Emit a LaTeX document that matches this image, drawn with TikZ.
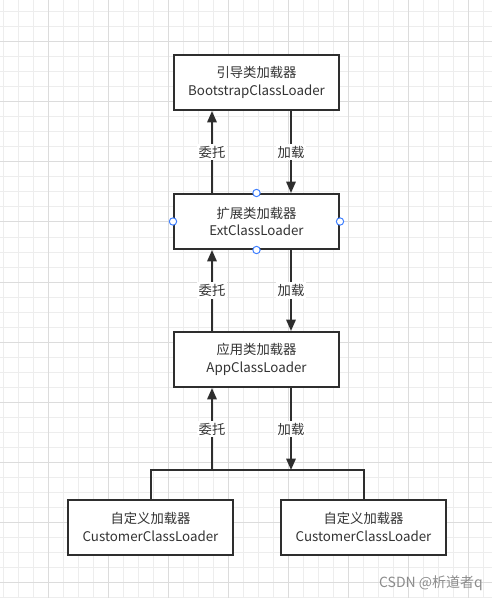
\documentclass[tikz,border=0pt]{standalone}
\usepackage{fontspec}
\setmainfont{Noto Sans CJK SC}
\usetikzlibrary{arrows.meta}

\definecolor{gridminor}{HTML}{EDEDED}
\definecolor{gridmajor}{HTML}{DCDCDC}
\definecolor{handleblue}{HTML}{3D7EFF}

\begin{document}
\begin{tikzpicture}[
    x=0.75pt,
    y=-0.75pt,
    every node/.style={font=\fontsize{10}{13}\selectfont, text=black!80},
    loaderbox/.style={draw=black!82, line width=1.5pt, fill=white, minimum width=123.75pt, minimum height=41.25pt, align=center, inner sep=0pt},
    link/.style={draw=black!82, line width=1.5pt},
    flow/.style={link, -{Triangle[length=8.5pt, width=7pt]}},
    tag/.style={fill=white, inner sep=1.5pt},
    handle/.style={circle, draw=handleblue, fill=white, line width=0.75pt, inner sep=0pt, minimum size=5.5pt}
]
    \useasboundingbox (0,0) rectangle (492,598);
    \fill[white] (0,0) rectangle (492,598);

    % background grid
    \foreach \g in {0,...,32}
        \draw[gridminor, line width=0.75pt] ({3+15*\g},0) -- ({3+15*\g},598);
    \foreach \g in {0,...,39}
        \draw[gridminor, line width=0.75pt] (0,{12+15*\g}) -- (492,{12+15*\g});
    \foreach \g in {0,...,7}
        \draw[gridmajor, line width=0.75pt] ({48+60*\g},0) -- ({48+60*\g},598);
    \foreach \g in {0,...,9}
        \draw[gridmajor, line width=0.75pt] (0,{42+60*\g}) -- (492,{42+60*\g});

    \node[loaderbox] (boot) at (256.5, 82.5) {引导类加载器\\BootstrapClassLoader};
    \node[loaderbox] (ext) at (256.5, 221.5) {扩展类加载器\\ExtClassLoader};
    \node[loaderbox] (app) at (256.5, 359.5) {应用类加载器\\AppClassLoader};
    \node[loaderbox] (custA) at (150.5, 527) {自定义加载器\\CustomerClassLoader};
    \node[loaderbox] (custB) at (363.5, 527) {自定义加载器\\CustomerClassLoader};

    \coordinate (upx) at (212, 0);
    \coordinate (downx) at (291, 0);
    \coordinate (forkL) at (150.5, 470);
    \coordinate (forkR) at (363.5, 470);

    \draw[flow] (upx |- ext.north) to node[tag] {委托} (upx |- boot.south);
    \draw[flow] (downx |- boot.south) to node[tag] {加载} (downx |- ext.north);
    \draw[flow] (upx |- app.north) to node[tag] {委托} (upx |- ext.south);
    \draw[flow] (downx |- ext.south) to node[tag] {加载} (downx |- app.north);

    \draw[link] (custA.north) -- (forkL) -- (forkR) -- (custB.north);
    \draw[flow] (upx |- forkL) to node[tag] {委托} (upx |- app.south);
    \draw[flow] (downx |- app.south) to node[tag] {加载} (downx |- forkL);

    \foreach \a in {north, south, east, west}
        \node[handle] at (ext.\a) {};

    \node[font=\fontsize{10.5}{12}\selectfont, text=black!45] (mark) at (431, 583) {CSDN @析道者q};

\end{tikzpicture}
\end{document}
